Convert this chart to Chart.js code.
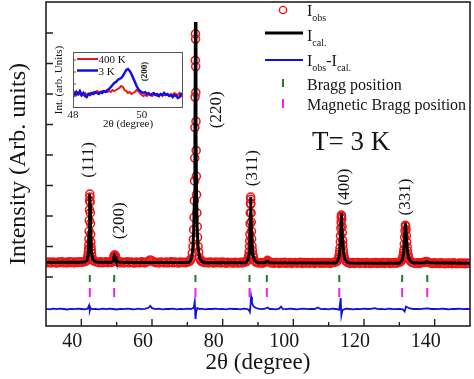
<!DOCTYPE html>
<html><head><meta charset="utf-8">
<script src="https://cdn.jsdelivr.net/npm/chart.js@4.4.0/dist/chart.umd.min.js"></script>
<style>
html,body{margin:0;padding:0;background:#fff;}
#wrap{position:relative;width:474px;height:379px;overflow:hidden;}
#main{position:absolute;left:0;top:0;}
#inset{position:absolute;left:50px;top:36px;}
</style></head><body>
<div id="wrap"><canvas id="main" width="474" height="379"></canvas><canvas id="inset" width="140" height="96"></canvas></div>
<script>
// ---------- main pattern data (2θ in degrees, intensity in arb. units) ----------
const obsData = [
[30.0,492],[30.5,466],[31.0,490],[31.5,460],[32.0,495],[32.5,478],[33.0,458],[33.5,492],[34.0,472],[34.5,500],[35.0,465],[35.5,485],[36.0,460],[36.5,496],[37.0,474],[37.5,489],[38.0,462],[38.5,494],[39.0,478],[39.5,499],[40.0,486],
[40.5,490],[41.0,505],[41.4,530],[41.6,560],[41.8,640],[41.9,720],[42.0,820],[42.05,920],[42.1,1050],[42.15,1250],[42.2,1500],[42.25,1850],[42.3,2200],[42.35,2500],[42.4,2720],[42.45,2620],[42.5,2450],[42.55,2100],[42.6,1750],[42.65,1400],[42.7,1150],[42.75,990],[42.8,880],[42.9,760],[43.0,660],[43.2,580],[43.5,530],[44.0,500],
[44.5,492],[45.0,470],[45.5,497],[46.0,464],[46.5,486],[47.0,501],[47.5,468],[48.0,490],[48.5,476],
[48.8,500],[49.0,540],[49.1,590],[49.2,640],[49.3,690],[49.4,720],[49.5,710],[49.6,690],[49.7,650],[49.8,600],[50.0,535],[50.3,498],
[50.5,488],[51.0,466],[51.5,494],[52.0,462],[52.5,484],[53.0,499],[53.5,465],[54.0,491],[54.5,473],[55.0,458],[55.5,493],[56.0,478],[56.5,464],[57.0,496],[57.5,481],[58.0,460],[58.5,491],[59.0,520],[59.5,560],[60.0,530],[60.5,492],[61.0,469],[61.5,486],[62.0,461],[62.5,494],[63.0,476],[63.5,466],[64.0,492],[64.5,459],[65.0,483],[65.5,497],[66.0,464],[66.5,488],[67.0,473],[67.5,457],[68.0,493],[68.5,474],[69.0,486],[69.5,463],[70.0,494],[70.5,500],
[70.8,540],[71.1,600],[71.4,780],[71.6,1000],[71.7,1230],[71.8,1550],[71.9,1950],[72.0,2500],[72.05,3150],[72.1,3900],[72.15,4900],[72.2,5900],[72.25,7100],[72.3,7970],[72.33,7800],[72.36,6900],[72.4,6050],[72.45,5100],[72.5,4150],[72.55,3300],[72.6,2700],[72.7,2100],[72.8,1650],[72.9,1300],[73.05,1000],[73.2,820],[73.5,620],[73.8,540],[74.1,505],
[74.5,492],[75.0,467],[75.5,483],[76.0,460],[76.5,492],[77.0,472],[77.5,455],[78.0,488],[78.5,465],[79.0,482],[79.5,459],[80.0,491],[80.5,468],[81.0,454],[81.5,485],[82.0,463],[82.5,479],[83.0,452],[83.5,487],[84.0,466],[84.5,458],[85.0,483],[85.5,462],[86.0,489],[86.5,494],
[86.8,510],[87.1,560],[87.3,640],[87.4,700],[87.5,820],[87.6,1000],[87.65,1180],[87.7,1400],[87.75,1750],[87.8,2100],[87.85,2400],[87.9,2620],[87.95,2550],[88.0,2400],[88.05,2100],[88.1,1800],[88.15,1500],[88.2,1250],[88.3,1020],[88.4,880],[88.55,740],[88.7,640],[89.0,540],[89.4,495],
[89.8,474],[90.3,456],[90.8,479],[91.3,452],[91.8,474],[92.3,500],[92.7,545],[93.1,505],[93.6,462],[94.0,476],[94.5,449],[95.0,471],[95.5,478],[96.0,446],[96.5,474],[97.0,457],[97.5,480],[98.0,449],[98.5,470],[99.0,476],[99.5,444],[100.0,469],[100.5,478],[101.0,452],[101.5,466],[102.0,480],[102.5,446],[103.0,471],[103.5,455],[104.0,476],[104.5,449],[105.0,469],[105.5,479],[106.0,444],[106.5,467],[107.0,474],[107.5,452],[108.0,477],[108.5,449],[109.0,471],[109.5,457],[110.0,479],[110.5,446],[111.0,469],[111.5,481],[112.0,492],
[112.4,520],[112.7,580],[112.9,650],[113.0,720],[113.1,820],[113.2,950],[113.3,1150],[113.35,1350],[113.45,1600],[113.5,1800],[113.55,1950],[113.6,2030],[113.65,1990],[113.7,1900],[113.8,1650],[113.85,1450],[113.95,1200],[114.0,1050],[114.1,900],[114.2,780],[114.35,680],[114.5,610],[114.9,520],[115.3,482],
[115.8,458],[116.3,449],[116.8,472],[117.3,444],[117.8,466],[118.3,475],[118.8,442],[119.3,463],[119.8,470],[120.3,446],[120.8,474],[121.3,450],[121.8,441],[122.3,469],[122.8,453],[123.3,474],[123.8,443],[124.3,466],[124.8,450],[125.3,472],[125.8,444],[126.3,463],[126.8,476],[127.3,446],[127.8,470],[128.3,450],[128.8,474],[129.3,454],[129.8,478],[130.2,495],
[130.5,520],[130.8,580],[131.0,640],[131.1,700],[131.2,790],[131.3,900],[131.4,1080],[131.5,1300],[131.6,1520],[131.7,1700],[131.8,1660],[131.9,1550],[132.0,1350],[132.1,1150],[132.2,980],[132.3,850],[132.45,740],[132.6,650],[132.9,560],[133.3,500],[133.7,474],
[134.2,452],[134.7,443],[135.2,466],[135.7,446],[136.2,470],[136.7,472],[137.2,488],[137.6,505],[138.0,495],[138.4,472],[138.9,451],[139.4,442],[139.9,466],[140.4,445],[140.9,462],[141.4,440],[141.9,467],[142.4,447],[142.9,436],[143.4,462],[143.9,442],[144.4,459],[144.9,438],[145.4,464],[145.9,443],[146.4,434],[146.9,459],[147.4,441],[147.9,456],[148.4,436],[148.9,461],[149.4,440],[149.9,454]
];
const calcData = [
[30,482],[40,481],[41.0,495],[41.6,540],[42.0,760],[42.2,1450],[42.3,2150],[42.4,2720],[42.5,2350],[42.6,1650],[42.8,850],[43.2,580],[44.0,500],[45,482],
[48.5,482],[49.0,530],[49.2,620],[49.4,700],[49.6,660],[49.8,580],[50.2,505],[51,480],[58,478],[62,476],
[70.5,478],[71.1,590],[71.5,850],[71.8,1500],[72.0,2600],[72.15,4600],[72.3,8360],[72.45,4700],[72.6,2700],[72.8,1550],[73.1,900],[73.5,620],[74.2,500],[75,470],
[86.5,466],[87.1,540],[87.5,780],[87.7,1350],[87.8,2050],[87.9,2630],[88.0,2350],[88.15,1650],[88.35,950],[88.7,640],[89.3,510],[90,468],
[92.0,470],[92.7,520],[93.4,470],[112.0,458],[112.6,540],[113.0,700],[113.3,1100],[113.5,1750],[113.6,2100],[113.7,1850],[113.9,1300],[114.2,800],[114.6,580],[115.3,480],[116,458],
[130,452],[130.8,560],[131.2,780],[131.5,1300],[131.7,1770],[131.9,1500],[132.2,950],[132.6,640],[133.2,510],[134,462],[137.2,470],[137.9,500],[138.6,465],[150,448]
];
const diffData = [
[30,-1045],[31,-1060],[32,-1040],[33,-1055],[34,-1035],[35,-1050],[36,-1065],[37,-1045],[38,-1055],[39,-1040],[40,-1050],[41,-1060],[41.8,-1040],[42.2,-930],[42.4,-1100],[42.6,-1020],[43,-1055],[44,-1045],[45,-1060],[46,-1040],[47,-1055],[48,-1035],[49,-1050],[50,-1065],[51,-1045],[52,-1055],[53,-1040],[54,-1050],[55,-1060],[56,-1040],[57,-1055],[58,-1045],[59,-1010],[59.5,-950],[60,-1020],[61,-1055],[62,-1040],[63,-1060],[64,-1045],[65,-1050],[66,-1035],[67,-1060],[68,-1045],[69,-1055],[70,-1040],[71,-1050],[71.8,-1010],[72.1,-810],[72.3,-1380],[72.5,-1150],[72.8,-1020],[73.5,-1055],[74,-1040],
[75,-1060],[76,-1045],[77,-1050],[78,-1035],[79,-1055],[80,-1045],[81,-1060],[82,-1040],[83,-1050],[84,-1045],[85,-1060],[86,-1040],[87,-1050],[87.4,-1080],[87.7,-1150],[87.9,-900],[88.05,-650],[88.3,-850],[88.7,-960],[89.3,-1010],[90,-1040],[91,-1055],[92,-1040],[92.7,-1000],[93.3,-1050],[94,-1045],[95,-1060],[96,-1040],[96.5,-975],[97,-1045],[98,-1055],[99,-1040],[100,-1050],[101,-1060],[102,-1045],[103,-1040],[104,-1055],[105,-1045],[106,-1050],[107,-1000],[107.5,-1040],[108,-1055],[109,-1045],[110,-1060],[111,-1040],[112,-1050],[113.0,-1070],[113.4,-690],[113.6,-1260],[113.9,-1090],[114.5,-1055],[115,-1040],
[116,-1050],[117,-1060],[118,-1045],[119,-1055],[120,-1040],[121,-1050],[122,-1045],[123,-1020],[124,-1055],[125,-1045],[126,-1060],[127,-1040],[128,-1050],[129,-1055],[130,-1045],[131,-1060],[131.5,-1130],[131.9,-970],[132.4,-1000],[133,-1030],[134,-1050],[135,-1045],[136,-1055],[137,-1040],[138,-1030],[139,-1050],[140,-1045],[141,-1055],[142,-1040],[143,-1050],[144,-1060],[145,-1045],[146,-1050],[147,-1040],[148,-1055],[149,-1045],[150,-1050]
];
const braggPos = [42.4, 49.3, 72.3, 87.6, 92.5, 113.0, 130.8, 137.9];
const magBraggPos = [42.4, 49.3, 72.3, 87.6, 92.5, 113.0, 130.8, 137.9];
const braggLevel = -50;
const magBraggLevel = -510;
const xTickVals = [40, 60, 80, 100, 120, 140];
const xMinorVals = [50, 70, 90, 110, 130];
const yTickVals = [0, 1000, 2000, 3000, 4000, 5000, 6000, 7000, 8000];
const hklLabels = ['(111)', '(200)', '(220)', '(311)', '(400)', '(331)'];
const hklX = [42.1, 50.9, 78.3, 88.4, 114.4, 131.7];
const hklY = [3840, 1840, 5480, 3570, 2950, 2620];

// ---------- inset data ----------
const insetX = [48.00,48.05,48.10,48.15,48.20,48.25,48.30,48.35,48.40,48.45,48.50,48.55,48.60,48.65,48.70,48.75,48.80,48.85,48.90,48.95,49.00,49.05,49.10,49.15,49.20,49.25,49.30,49.35,49.40,49.45,49.50,49.55,49.60,49.65,49.70,49.75,49.80,49.85,49.90,49.95,50.00,50.05,50.10,50.15,50.20,50.25,50.30,50.35,50.40,50.45,50.50,50.55,50.60,50.65,50.70,50.75,50.80,50.85,50.90,50.95,51.00,51.05,51.10,51.15,51.20];
const inset3K = [15,13,16,14,17,13,15,12,11,14,13,15,14,16,15,14,16,15,17,16,18,19,21,23,25,26,28,29,30,32,35,38,39,37,34,30,26,22,19,17,16,15,16,14,15,13,14,15,13,14,12,14,13,15,13,14,12,13,11,13,12,10,11,14,13];
const inset400K = [14,16,13,15,14,12,14,15,13,14,15,14,16,15,17,16,15,17,16,17,16,17,16,18,17,18,19,20,22,21,18,17,15,16,14,15,16,18,17,15,13,12,13,12,14,13,12,13,14,12,13,14,12,13,14,13,12,14,13,15,14,13,15,12,14];
const insetXTicks = [48, 50];

const serif = "'Liberation Serif','Times New Roman',serif";
const INK = '#151515';
const RED = '#f01414';
const BLUE = '#1010e6';
const GREEN = '#1e7d2c';
const MAG = '#ee22ee';

function pts(arr){ return arr.map(p => ({x: p[0], y: p[1]})); }

function subText(ctx, parts, x, y){
  let cx = x;
  parts.forEach(([t, sub]) => {
    ctx.font = sub ? '10px ' + serif : '16px ' + serif;
    ctx.fillText(t, cx, sub ? y + 5 : y);
    cx += ctx.measureText(t).width;
  });
}

const mainDeco = {
  id: 'mainDeco',
  afterDraw(chart){
    const ctx = chart.ctx, a = chart.chartArea;
    const xs = chart.scales.x, ys = chart.scales.y;
    ctx.save();
    ctx.strokeStyle = '#222';
    ctx.lineWidth = 1.6;
    ctx.strokeRect(a.left, a.top, a.right - a.left, a.bottom - a.top);
    ctx.lineWidth = 1.4;
    ctx.beginPath();
    xTickVals.forEach(v => { const px = xs.getPixelForValue(v); ctx.moveTo(px, a.bottom); ctx.lineTo(px, a.bottom - 7); });
    xMinorVals.forEach(v => { const px = xs.getPixelForValue(v); ctx.moveTo(px, a.bottom); ctx.lineTo(px, a.bottom - 4); });
    yTickVals.forEach(v => { const py = ys.getPixelForValue(v); ctx.moveTo(a.left, py); ctx.lineTo(a.left + 7, py); });
    ctx.stroke();

    ctx.fillStyle = INK;
    ctx.font = '17px ' + serif;
    ctx.textAlign = 'center';
    ctx.textBaseline = 'middle';
    hklLabels.forEach((t, i) => {
      ctx.save();
      ctx.translate(xs.getPixelForValue(hklX[i]), ys.getPixelForValue(hklY[i]));
      ctx.rotate(-Math.PI / 2);
      ctx.fillText(t, 0, 0);
      ctx.restore();
    });

    ctx.textAlign = 'left';
    ctx.textBaseline = 'alphabetic';
    ctx.font = '27px ' + serif;
    ctx.fillText('T= 3 K', 312, 150);

    const lx = 307;
    ctx.strokeStyle = RED; ctx.lineWidth = 1.4;
    ctx.beginPath(); ctx.arc(283, 10, 3.6, 0, Math.PI * 2); ctx.stroke();
    ctx.fillStyle = INK;
    subText(ctx, [['I', false], ['obs', true]], lx, 16);
    ctx.strokeStyle = '#000'; ctx.lineWidth = 3;
    ctx.beginPath(); ctx.moveTo(265, 33); ctx.lineTo(303, 33); ctx.stroke();
    subText(ctx, [['I', false], ['cal.', true]], lx, 41);
    ctx.strokeStyle = BLUE; ctx.lineWidth = 1.8;
    ctx.beginPath(); ctx.moveTo(265, 60); ctx.lineTo(303, 60); ctx.stroke();
    subText(ctx, [['I', false], ['obs', true], ['-I', false], ['cal.', true]], lx, 66);
    ctx.strokeStyle = GREEN; ctx.lineWidth = 2;
    ctx.beginPath(); ctx.moveTo(283, 79); ctx.lineTo(283, 87); ctx.stroke();
    ctx.font = '16px ' + serif;
    ctx.fillText('Bragg position', lx, 90);
    ctx.strokeStyle = MAG;
    ctx.beginPath(); ctx.moveTo(283, 99); ctx.lineTo(283, 108); ctx.stroke();
    ctx.fillText('Magnetic Bragg position', lx, 110);
    ctx.restore();
  }
};

new Chart(document.getElementById('main'), {
  type: 'scatter',
  data: {
    datasets: [
      { label: 'Iobs', data: pts(obsData), showLine: false, pointRadius: 4, pointBorderWidth: 1.5,
        pointBorderColor: RED, pointBackgroundColor: 'rgba(255,255,255,0)', order: 5 },
      { label: 'Ical.', data: pts(calcData), showLine: true, borderColor: '#000', borderWidth: 3,
        pointRadius: 0, tension: 0, order: 2 },
      { label: 'Iobs-Ical.', data: pts(diffData), showLine: true, borderColor: BLUE, borderWidth: 1.8,
        pointRadius: 0, tension: 0, order: 3 },
      { label: 'Bragg position', data: braggPos.map(x => ({x, y: braggLevel})), showLine: false,
        pointStyle: 'line', rotation: 90, pointRadius: 3.5, pointBorderWidth: 2, pointBorderColor: GREEN, order: 1 },
      { label: 'Magnetic Bragg position', data: magBraggPos.map(x => ({x, y: magBraggLevel})), showLine: false,
        pointStyle: 'line', rotation: 90, pointRadius: 4.5, pointBorderWidth: 2, pointBorderColor: MAG, order: 1 }
    ]
  },
  options: {
    responsive: false, animation: false, events: [], devicePixelRatio: 1,
    layout: { autoPadding: false, padding: { left: 0, right: 4, top: 2, bottom: 0 } },
    plugins: { legend: { display: false }, tooltip: { enabled: false } },
    scales: {
      x: {
        type: 'linear', min: 30, max: 150,
        grid: { display: false, drawTicks: false }, border: { display: false },
        afterBuildTicks: s => { s.ticks = xTickVals.map(v => ({ value: v })); },
        ticks: { font: { family: serif, size: 20 }, color: INK, padding: 4, labelOffset: -9, maxRotation: 0, autoSkip: false },
        title: { display: true, text: '2θ (degree)', font: { family: serif, size: 23 }, color: INK, padding: { top: 0, bottom: 2 } },
        afterFit: s => { s.height = 53; }
      },
      y: {
        type: 'linear', min: -1607, max: 9016,
        grid: { display: false, drawTicks: false }, border: { display: false },
        afterBuildTicks: s => { s.ticks = yTickVals.map(v => ({ value: v })); },
        ticks: { display: false },
        title: { display: true, text: 'Intensity (Arb. units)', font: { family: serif, size: 24 }, color: INK, padding: { top: 4, bottom: 0 } },
        afterFit: s => { s.width = 46; }
      }
    }
  },
  plugins: [mainDeco]
});

const insetDeco = {
  id: 'insetDeco',
  beforeDatasetsDraw(chart){
    const ctx = chart.ctx, a = chart.chartArea;
    ctx.save(); ctx.fillStyle = '#fff';
    ctx.fillRect(a.left, a.top, a.right - a.left, a.bottom - a.top);
    ctx.restore();
  },
  afterDraw(chart){
    const ctx = chart.ctx, a = chart.chartArea;
    ctx.save();
    ctx.strokeStyle = '#555'; ctx.lineWidth = 1;
    ctx.strokeRect(a.left + 0.5, a.top + 0.5, a.right - a.left - 1, a.bottom - a.top - 1);
    ctx.beginPath();
    [12, 24, 36, 48].forEach(v => { const py = chart.scales.y.getPixelForValue(v); ctx.moveTo(a.left, py); ctx.lineTo(a.left + 3, py); });
    ctx.stroke();
    ctx.lineWidth = 2;
    ctx.strokeStyle = RED; ctx.beginPath(); ctx.moveTo(27, 23); ctx.lineTo(48, 23); ctx.stroke();
    ctx.strokeStyle = BLUE; ctx.lineWidth = 2.5; ctx.beginPath(); ctx.moveTo(27, 34.5); ctx.lineTo(48, 34.5); ctx.stroke();
    ctx.fillStyle = INK; ctx.font = '11px ' + serif; ctx.textAlign = 'left'; ctx.textBaseline = 'alphabetic';
    ctx.fillText('400 K', 48.5, 27);
    ctx.fillText('3 K', 48.5, 38.5);
    ctx.save();
    ctx.font = 'bold 9px ' + serif; ctx.textAlign = 'center'; ctx.textBaseline = 'middle';
    ctx.translate(95, 35.5); ctx.rotate(-Math.PI / 2); ctx.fillText('(200)', 0, 0);
    ctx.restore();
    ctx.restore();
  }
};

new Chart(document.getElementById('inset'), {
  type: 'scatter',
  data: {
    datasets: [
      { label: '400 K', data: insetX.map((x, i) => ({ x, y: inset400K[i] })), showLine: true, borderColor: RED, borderWidth: 2, pointRadius: 0, order: 2 },
      { label: '3 K', data: insetX.map((x, i) => ({ x, y: inset3K[i] })), showLine: true, borderColor: BLUE, borderWidth: 2.5, pointRadius: 0, order: 1 }
    ]
  },
  options: {
    responsive: false, animation: false, events: [], devicePixelRatio: 1,
    layout: { autoPadding: false, padding: { left: 0, right: 7, top: 16, bottom: 0 } },
    plugins: { legend: { display: false }, tooltip: { enabled: false } },
    scales: {
      x: {
        type: 'linear', min: 48, max: 51.2,
        grid: { display: false, drawTicks: false }, border: { display: false },
        afterBuildTicks: s => { s.ticks = insetXTicks.map(v => ({ value: v })); },
        ticks: { font: { family: serif, size: 11 }, color: INK, padding: 1, maxRotation: 0, autoSkip: false },
        title: { display: true, text: '2θ (degree)', font: { family: serif, size: 11 }, color: INK, padding: { top: 0, bottom: 1 } },
        afterFit: s => { s.height = 24; }
      },
      y: {
        type: 'linear', min: 0, max: 56,
        grid: { display: false, drawTicks: false }, border: { display: false },
        ticks: { display: false },
        title: { display: true, text: 'Int. (arb. Units)', font: { family: serif, size: 11 }, color: INK, padding: { top: 3, bottom: 0 } },
        afterFit: s => { s.width = 23; }
      }
    }
  },
  plugins: [insetDeco]
});
</script>
</body></html>
